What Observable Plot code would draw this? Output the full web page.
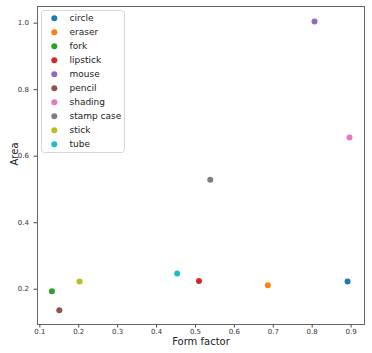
<!DOCTYPE html>
<html>
<head>
<meta charset="utf-8">
<script src="https://cdn.jsdelivr.net/npm/d3@7"></script>
<script src="https://cdn.jsdelivr.net/npm/@observablehq/plot@0.6"></script>
<style>
  html, body { margin: 0; padding: 0; background: #fff; }
  #chart { position: relative; width: 372px; height: 353px; font-family: "DejaVu Sans", sans-serif; }
  #legend { position: absolute; left: 0; top: 0; pointer-events: none; }
</style>
</head>
<body>
<div id="chart"></div>
<script>
const categories = ["circle", "eraser", "fork", "lipstick", "mouse", "pencil", "shading", "stamp case", "stick", "tube"];
const formFactor = [0.891, 0.686, 0.131, 0.509, 0.806, 0.150, 0.896, 0.538, 0.202, 0.453];
const area = [0.223, 0.212, 0.194, 0.225, 1.005, 0.137, 0.656, 0.529, 0.223, 0.247];
const colors = ["#1f77b4", "#ff7f0e", "#2ca02c", "#d62728", "#9467bd", "#8c564b", "#e377c2", "#7f7f7f", "#bcbd22", "#17becf"];
const xTicks = [0.1, 0.2, 0.3, 0.4, 0.5, 0.6, 0.7, 0.8, 0.9];
const yTicks = [0.2, 0.4, 0.6, 0.8, 1.0];
const xLabel = "Form factor";
const yLabel = "Area";

const data = categories.map((c, i) => ({category: c, x: formFactor[i], y: area[i]}));

const plot = Plot.plot({
  width: 372,
  height: 353,
  marginLeft: 37,
  marginRight: 8,
  marginTop: 6,
  marginBottom: 29,
  style: {fontFamily: "DejaVu Sans, sans-serif", background: "#fff", color: "#333"},
  x: {domain: [0.094, 0.9345]},
  y: {domain: [0.094, 1.05]},
  color: {domain: categories, range: colors},
  marks: [
    Plot.axisX({ticks: xTicks, tickFormat: ".1f", tickSize: 3.5, tickPadding: 1.5, fontSize: 7, label: null, stroke: "#444", fill: "#333"}),
    Plot.axisY({ticks: yTicks, tickFormat: ".1f", tickSize: 3.5, tickPadding: 5, fontSize: 7, label: null, stroke: "#444", fill: "#333"}),
    Plot.frame({stroke: "#666", strokeWidth: 1}),
    Plot.dot(data, {x: "x", y: "y", fill: "category", r: 3}),
    Plot.text([xLabel], {frameAnchor: "bottom", dy: 20, fontSize: 10, fill: "#222"}),
    Plot.text([yLabel], {frameAnchor: "left", dx: -22.5, rotate: -90, fontSize: 10, fill: "#222"})
  ]
});
document.getElementById("chart").appendChild(plot);

// legend overlay inside the plot area
const legend = d3.select("#chart").append("svg")
  .attr("id", "legend")
  .attr("width", 372).attr("height", 353)
  .style("font-family", "DejaVu Sans, sans-serif");
legend.append("rect")
  .attr("x", 41.5).attr("y", 10.5).attr("width", 83).attr("height", 142)
  .attr("rx", 3).attr("fill", "#fff").attr("fill-opacity", 0.85)
  .attr("stroke", "#d8d8d8");
const rows = legend.selectAll("g.row").data(categories).join("g")
  .attr("class", "row")
  .attr("transform", (d, i) => `translate(0,${18.3 + 14 * i})`);
rows.append("circle").attr("cx", 54.3).attr("cy", 0).attr("r", 3)
  .attr("fill", (d, i) => colors[i]);
rows.append("text").attr("x", 69.5).attr("y", 0).attr("dy", "0.35em")
  .attr("font-size", 9).attr("fill", "#222").text(d => d);
</script>
</body>
</html>
